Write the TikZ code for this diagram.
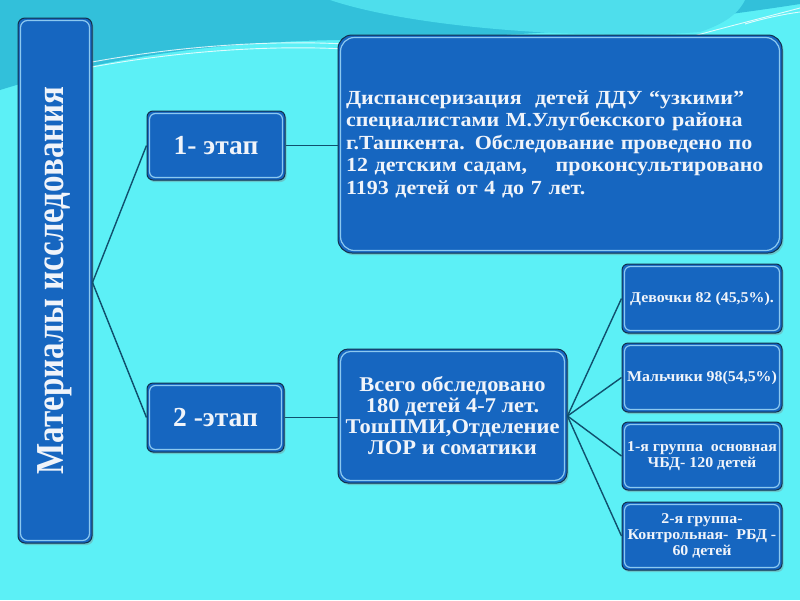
\documentclass[tikz,border=0pt]{standalone}
\usepackage{fontspec}
\setmainfont{Liberation Serif}
\newfontfamily\wideA[FakeStretch=1.1]{Liberation Serif}
\newfontfamily\wideB[FakeStretch=1.07]{Liberation Serif}
\newfontfamily\wideC[FakeStretch=1.06]{Liberation Serif}
\usetikzlibrary{shadows}
\definecolor{bgc}{RGB}{92,240,246}
\definecolor{bgd}{RGB}{50,192,218}
\definecolor{bgm}{RGB}{78,222,236}
\definecolor{boxf}{RGB}{22,102,192}
\definecolor{boxb}{RGB}{18,48,78}
\definecolor{boxh}{RGB}{140,200,240}
\definecolor{linec}{RGB}{16,80,110}
\definecolor{txt}{RGB}{240,244,250}
\tikzset{
  bbox/.style={draw=boxb, line width=1pt, fill=boxf, rounded corners=#1, text=txt,
    font=\bfseries, inner sep=0pt,
    drop shadow={opacity=0.35, shadow xshift=1.5pt, shadow yshift=-2pt},
    path picture={\draw[boxh, line width=1.2pt, rounded corners=#1]
      ([shift={(2.5pt,2.5pt)}]path picture bounding box.south west) rectangle
      ([shift={(-2.5pt,-2.5pt)}]path picture bounding box.north east);}},
  bbox/.default=8pt,
  conn/.style={draw=linec, line width=1.4pt},
  swoosh/.style={draw=white, opacity=0.8, line width=0.9pt},
}
\begin{document}
\begin{tikzpicture}[x=1pt,y=1pt]
\useasboundingbox (0,0) rectangle (800,-600);
% background
\fill[bgc] (0,0) rectangle (800,-600);
\fill[bgd] (0,0) -- (0,-90) .. controls (90,-62) and (200,-42) .. (340,-40)
  .. controls (480,-38) and (620,-32) .. (800,-4) -- (800,0) -- cycle;
\fill[bgm] (330,0) .. controls (420,-30) and (600,-40) .. (700,-32)
  .. controls (730,-22) and (740,-10) .. (745,0) -- cycle;
\draw[swoosh] (92,-62) .. controls (180,-46) and (270,-40) .. (345,-44);
\draw[swoosh] (92,-67) .. controls (180,-51) and (270,-45) .. (345,-49);
\draw[swoosh] (690,-37) .. controls (730,-26) and (770,-16) .. (800,-8);
\draw[swoosh] (745,-24) .. controls (765,-18) and (785,-14) .. (800,-12);

% boxes
\node[bbox=7pt, minimum width=74pt, minimum height=525pt] (mat) at (55,-280.5) {};
\node[text=txt, font=\bfseries\fontsize{33}{33}\selectfont, rotate=90] (matt) at (mat.center)
  {\scalebox{1}[1.2]{Материалы исследования}};

\node[bbox=6pt, minimum width=138pt, minimum height=69pt, font=\bfseries\fontsize{27.5}{27.5}\selectfont] (e1) at (216,-145.5) {1- этап};
\node[bbox=6pt, minimum width=137pt, minimum height=69pt, font=\bfseries\fontsize{27.5}{27.5}\selectfont] (e2) at (215.5,-417.5) {2 -этап};

\node[bbox=14pt, minimum width=444pt, minimum height=218pt, text width=428pt, align=left,
  font=\wideA\bfseries\fontsize{20}{22.5}\selectfont] (big) at (560,-144)
  {Диспансеризация\ \ детей ДДУ “узкими”\\
   специалистами М.Улугбекского района\\
   г.Ташкента. Обследование проведено по\\
   12 детским садам,\hspace{1.1em} проконсультировано\\
   1193 детей от 4 до 7 лет.};

\node[bbox=10pt, minimum width=229pt, minimum height=134pt, align=center,
  font=\wideB\bfseries\fontsize{21}{21}\selectfont] (vs) at (452.5,-416)
  {Всего обследовано\\180 детей 4-7 лет.\\ТошПМИ,Отделение\\ЛОР и соматики};

\tikzset{sm/.style={bbox=6pt, minimum width=160pt, align=center,
  font=\wideC\bfseries\fontsize{15}{16}\selectfont}}
\node[sm, minimum height=69pt] (g1) at (702,-298.5) {Девочки 82 (45,5\%).};
\node[sm, minimum height=69pt] (g2) at (702,-377.5) {Мальчики 98(54,5\%)};
\node[sm, minimum height=68pt] (g3) at (702,-456) {1-я группа\ \ основная\\ЧБД- 120 детей};
\node[sm, minimum height=68pt] (g4) at (702,-536) {2-я группа-\\Контрольная-\ \ РБД -\\60 детей};

% connectors
\draw[conn] ([yshift=-2pt]mat.east) -- (e1.west);
\draw[conn] ([yshift=-2pt]mat.east) -- (e2.west);
\draw[conn] (e1.east) -- (e1.east -| big.west);
\draw[conn] (e2.east) -- (e2.east -| vs.west);
\foreach \g in {g1,g2,g3,g4} \draw[conn] (vs.east) -- (\g.west);
\end{tikzpicture}
\end{document}
